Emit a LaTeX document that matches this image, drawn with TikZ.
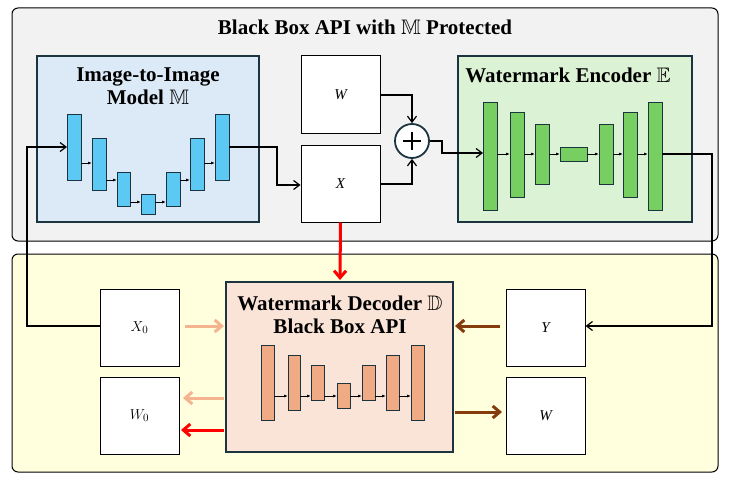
\documentclass[tikz,border=0pt]{standalone}
\usepackage{fontspec}
\usepackage{amssymb}
\setmainfont{Liberation Serif}
\usetikzlibrary{arrows.meta}
\definecolor{dk}{HTML}{1C3440}
\definecolor{bluebg}{HTML}{DCE9F6}
\definecolor{greenbg}{HTML}{DCF2D4}
\definecolor{orangebg}{HTML}{FAE3D7}
\definecolor{bbar}{HTML}{5CC8F4}
\definecolor{gbar}{HTML}{77CF62}
\definecolor{obar}{HTML}{F0AA84}
\definecolor{peach}{HTML}{F4B490}
\definecolor{brown}{HTML}{843C0C}
\definecolor{grayb}{HTML}{F2F2F2}
\definecolor{yel}{HTML}{FFFFDD}
\begin{document}
\begin{tikzpicture}[x=1pt,y=-1pt,
  region/.style={draw=black,line width=1pt,rounded corners=6pt},
  panel/.style={draw=dk,line width=1.2pt},
  wbox/.style={draw=black,line width=1pt,fill=white},
  bar/.style={draw=dk,line width=1pt},
  ttl/.style={font=\bfseries\fontsize{21}{23}\selectfont,align=center},
  lbl/.style={font=\itshape\fontsize{15}{17}\selectfont},
  sm/.style={-{Latex[length=4pt,width=3pt]},line width=0.8pt},
  conn/.style={-{Straight Barb[length=6pt,width=9pt]},line width=1.2pt},
  fat/.style={-{Straight Barb[length=7pt,width=12pt]},line width=3pt}]
\useasboundingbox (0,0) rectangle (731,503);
\fill[white] (0,0) rectangle (731,503);
\draw[region,fill=grayb] (12,8) rectangle (718,241);
\draw[region,fill=yel] (12,254) rectangle (718,472);
\node[ttl] (t) at (365,27) {Black Box API with $\mathbb{M}$ Protected};
% model
\draw[panel,fill=bluebg] (37,56) rectangle (259,222);
\node[ttl] (mt) at (148,86) {Image-to-Image\\Model $\mathbb{M}$};
\foreach \i/\a/\b/\c/\d in {1/67/114/81/180,2/92/138/106/190,3/117/172/130/206,4/141/194/155/214,5/166/172/180/206,6/190/138/204/190,7/215/114/229/180}
  \draw[bar,fill=bbar] (\a,\b) rectangle (\c,\d) coordinate (m\i);
\draw[sm] (81,163)--(92,163); \draw[sm] (106,180)--(117,180); \draw[sm] (130,202)--(141,202);
\draw[sm] (155,202)--(166,202); \draw[sm] (180,180)--(190,180); \draw[sm] (204,163)--(215,163);
% W X
\node[wbox,minimum width=79pt,minimum height=77pt,inner sep=0] (W) at (340.5,94.5) {};
\node[lbl] at (W) {W};
\node[wbox,minimum width=79pt,minimum height=77pt,inner sep=0] (X) at (340.5,183.5) {};
\node[lbl] at (X) {X};
\node[circle,draw=dk,line width=1.8pt,fill=white,minimum size=34pt,inner sep=0] (p) at (412,141) {};
\draw[line width=2pt] (p.center)+(-9,0) -- +(9,0) (p.center)+(0,-9) -- +(0,9);
\draw[conn] (W.east|-0,95) -| (p.north);
\draw[conn] (X.east|-0,184) -| (p.south);
% encoder
\draw[panel,fill=greenbg] (458,56) rectangle (692,222);
\node[ttl] (et) at (568,75) {Watermark Encoder $\mathbb{E}$};
\foreach \a/\b/\c/\d in {483/102/497/210,510/112/524/197,535/124/549/184,599/124/613/184,623/112/637/197,648/102/662/210}
  \draw[bar,fill=gbar] (\a,\b) rectangle (\c,\d);
\draw[bar,fill=gbar] (560,147) rectangle (587,161);
\draw[sm] (497,154)--(510,154); \draw[sm] (524,154)--(535,154); \draw[sm] (549,154)--(560,154);
\draw[sm] (587,154)--(599,154); \draw[sm] (613,154)--(623,154); \draw[sm] (637,154)--(648,154);
\draw[conn] (p.east) -- (442,141) -- (442,153) -- (483,153);
% model connections
\draw[conn] (229,147) -- (277,147) |- (X.west|-0,185);
% decoder
\draw[panel,fill=orangebg] (226,282) rectangle (453,452);
\node[ttl] (dt) at (340,315) {Watermark Decoder $\mathbb{D}$\\Black Box API};
\foreach \a/\b/\c/\d in {261/345/274/420,288/355/300/410,311/365/324/400,362/365/375/400,386/355/399/410,411/345/424/420}
  \draw[bar,fill=obar] (\a,\b) rectangle (\c,\d);
\draw[bar,fill=obar] (337,383) rectangle (350,408);
\draw[sm] (274,396)--(288,396); \draw[sm] (300,396)--(311,396); \draw[sm] (324,396)--(337,396);
\draw[sm] (350,396)--(362,396); \draw[sm] (375,396)--(386,396); \draw[sm] (399,396)--(411,396);
% bottom boxes
\node[wbox,minimum width=79pt,minimum height=77pt,inner sep=0] (X0) at (139.5,327.5) {};
\node[lbl] at (X0) {$X_0$};
\node[wbox,minimum width=79pt,minimum height=77pt,inner sep=0] (W0) at (139.5,415.5) {};
\node[lbl] at (W0) {$W_0$};
\node[wbox,minimum width=79pt,minimum height=77pt,inner sep=0] (Y) at (545.5,327.5) {};
\node[lbl] at (Y) {Y};
\node[wbox,minimum width=79pt,minimum height=77pt,inner sep=0] (W2) at (545.5,415.5) {};
\node[lbl] at (W2) {W};
% long connectors
\draw[conn] (X0.west|-0,326) -- (27,326) -- (27,147) -- (67,147);
\draw[conn] (662,154) -- (712,154) -- (712,326) -- (Y.east|-0,326);
\draw[fat,red] (X.south) -- (340,280);
\draw[fat,peach] (185,326) -- (224,326);
\draw[fat,brown] (500,326) -- (455,326);
\draw[fat,peach] (224,398) -- (183,398);
\draw[fat,red] (224,430) -- (181,430);
\draw[fat,brown] (455,412) -- (502,412);
\end{tikzpicture}
\end{document}
